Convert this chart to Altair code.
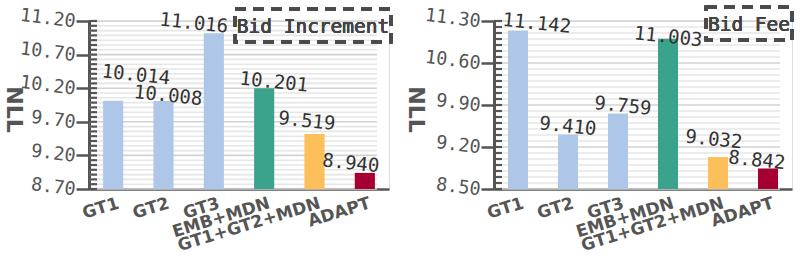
import altair as alt
import pandas as pd
import numpy as np

categories = ["GT1", "GT2", "GT3", "EMB+MDN", "GT1+GT2+MDN", "ADAPT"]
bar_colors = ["#aec7e8", "#aec7e8", "#aec7e8", "#3ba38c", "#fdbf5a", "#a50031"]
inc_values = [10.014, 10.008, 11.016, 10.201, 9.519, 8.940]
fee_values = [11.142, 9.410, 9.759, 11.003, 9.032, 8.842]
inc_ticks = [8.70, 9.20, 9.70, 10.20, 10.70, 11.20]
fee_ticks = [8.50, 9.20, 9.90, 10.60, 11.30]
inc_label = "Bid Increment"
fee_label = "Bid Fee"

# label nudges (style/layout, not data)
inc_offsets = [(20, -28), (4, -6), (-21, -8), (9, -7), (-9, -12), (-15, -8)]
fee_offsets = [(18, -9), (-1, -8), (4, -8), (0, -2), (-6, -17), (-12, -7)]

DARK = "#555555"
MONO = "DejaVu Sans Mono"
SANS = "DejaVu Sans"
H = 168


def panel(values, ticks, offsets, box_text, W, box_x0, box_x1, box_y0, box_y1, extent, title_x):
    ymin, ymax = ticks[0], ticks[-1]
    n_minor = (len(ticks) - 1) * 7
    minor = list(np.linspace(ymin, ymax, n_minor + 1))
    df = pd.DataFrame({"cat": categories, "val": values, "color": bar_colors})
    yscale = alt.Scale(domain=[ymin, ymax], nice=False, zero=False)
    xscale = alt.Scale(paddingInner=0.6, paddingOuter=0.28)
    yaxis = alt.Axis(values=ticks, format=".2f", tickSize=13, tickWidth=2.5,
                     tickColor=DARK, domainColor=DARK, domainWidth=3,
                     labelFont=MONO, labelFontSize=18.5, labelColor=DARK,
                     labelAngle=7, labelPadding=1, labelAlign="right",
                     labelBaseline="middle", labelOverlap=False, labelFlush=False,
                     title="NLL", titleAngle=90, titleFont=SANS,
                     titleFontWeight="bold", titleFontSize=22, titleColor=DARK,
                     titleX=title_x, titleY=H / 2 + 4, titleAlign="center",
                     titleBaseline="middle", minExtent=extent, maxExtent=extent,
                     grid=False)
    xaxis = alt.Axis(labelAngle=-17, labelAlign="right", labelBaseline="top",
                     labelFont=SANS, labelFontWeight="bold", labelFontSize=17,
                     labelColor=DARK, ticks=False, domainColor=DARK, domainWidth=2.5,
                     labelPadding=6, labelOffset=3, labelOverlap=False, labelLimit=300,
                     title=None)

    grid_df = pd.DataFrame({"v": minor, "major": [i % 7 == 0 for i in range(len(minor))]})
    grid = alt.Chart(grid_df).mark_rule(strokeWidth=1.6).encode(
        y=alt.Y("v:Q", scale=yscale, axis=yaxis),
        x=alt.value(0), x2=alt.value(W - 12),
        color=alt.condition("datum.major", alt.value("#d2d2d2"), alt.value("#e6e6e6")),
    )
    bars = alt.Chart(df).mark_bar().encode(
        x=alt.X("cat:N", sort=categories, scale=xscale, axis=xaxis),
        y=alt.Y("val:Q", scale=yscale, axis=yaxis),
        y2=alt.datum(ymin),
        color=alt.Color("color:N", scale=None),
    )
    tick_df = pd.DataFrame({"v": minor})
    inner_ticks = alt.Chart(tick_df).mark_rule(strokeWidth=2.2, color=DARK).encode(
        y=alt.Y("v:Q", scale=yscale, axis=yaxis),
        x=alt.value(0), x2=alt.value(8),
    )
    layers = [grid, bars, inner_ticks]
    for c, (dx, dy) in zip(categories, offsets):
        layers.append(
            alt.Chart(df).transform_filter(alt.datum.cat == c).mark_text(
                font=MONO, fontSize=19, color="#333333", angle=6, dx=dx, dy=dy,
                align="center", baseline="middle",
            ).encode(
                x=alt.X("cat:N", sort=categories, scale=xscale, axis=xaxis),
                y=alt.Y("val:Q", scale=yscale, axis=yaxis),
                text=alt.Text("val:Q", format=".3f"),
            )
        )
    box = alt.Chart(df).mark_rect(fill=None, fillOpacity=0, stroke="#4a4a4a", strokeWidth=3,
                                   strokeDash=[11, 7]).encode(
        x=alt.value(box_x0), x2=alt.value(box_x1), y=alt.value(box_y0), y2=alt.value(box_y1),
    )
    box_txt = alt.Chart(df).mark_text(font=MONO, fontSize=19.5, color="#444444",
                                       align="center", baseline="middle").encode(
        x=alt.value((box_x0 + box_x1) / 2), y=alt.value((box_y0 + box_y1) / 2 + 1),
        text=alt.value(box_text),
    )
    layers += [box, box_txt]
    return alt.layer(*layers).properties(width=W, height=H)


left = panel(inc_values, inc_ticks, inc_offsets, inc_label, 300, 146, 302, -12, 21, 88, -76)
right = panel(fee_values, fee_ticks, fee_offsets, fee_label, 298, 212, 298, -14, 19, 92, -79)

chart = alt.hconcat(left, right, spacing=8).properties(
    padding={"left": 0, "top": 4, "right": 0, "bottom": 0}
).configure_view(stroke=None).configure(background="white")

chart.save("out.html", embed_options={"renderer": "svg", "actions": False})
